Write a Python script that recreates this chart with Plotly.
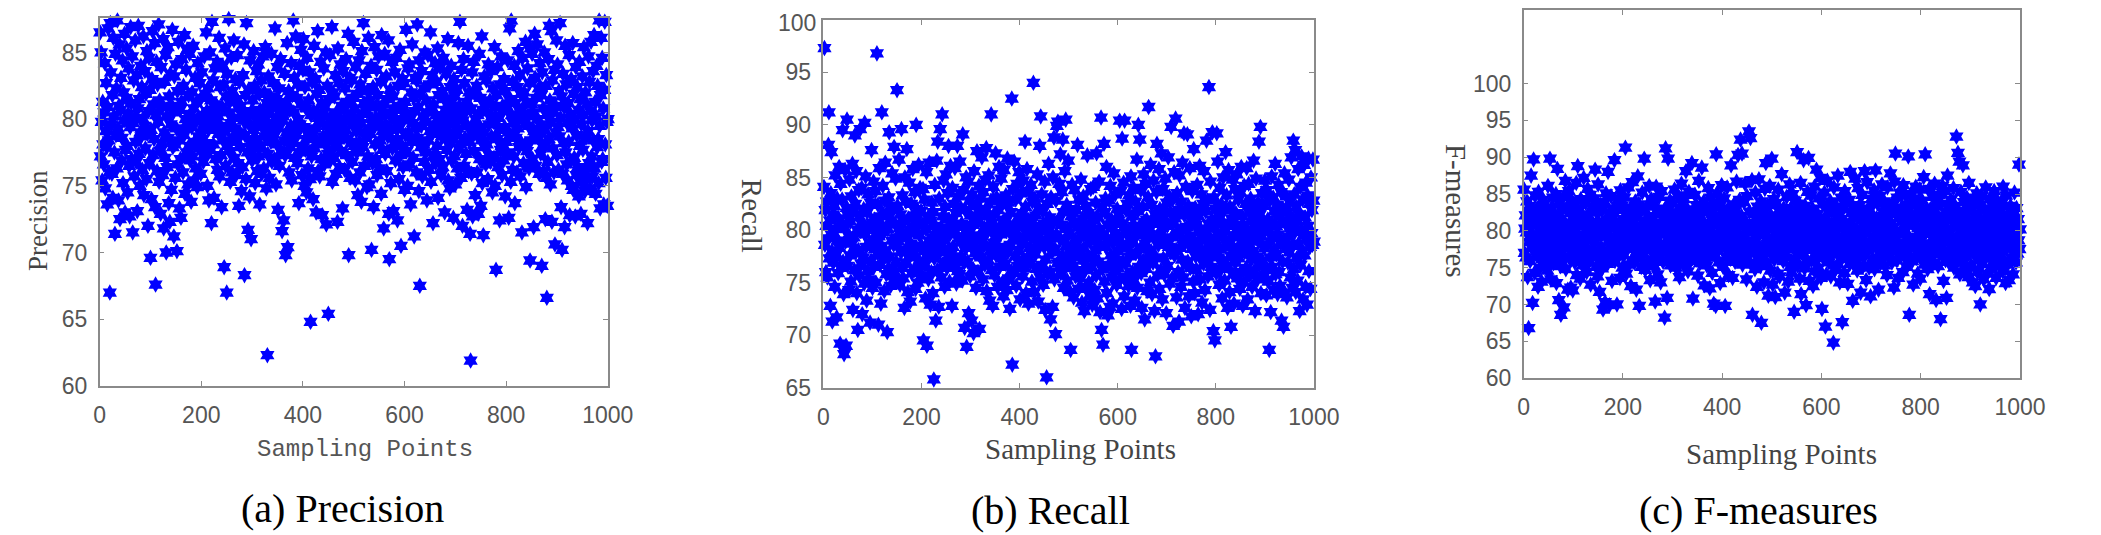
import plotly.graph_objects as go

W, H = 2101, 535

precision = [
86.5,77.2,85.0,79.8,75.4,81.3,78.1,76.6,80.5,84.2,74.8,79.1,82.7,77.9,73.6,80.9,86.8,78.4,76.0,67.0,
87.2,83.5,79.6,75.9,81.8,74.1,86.1,80.2,77.5,71.4,84.9,78.8,82.3,76.3,87.4,79.3,73.9,81.0,85.6,72.5,
80.7,83.1,76.9,78.6,84.4,75.2,82.0,79.9,86.4,73.0,77.7,81.6,85.3,78.0,74.5,80.4,83.8,76.5,72.7,79.4,
86.9,81.2,77.0,84.7,71.5,79.7,82.9,75.7,80.1,85.9,78.3,76.8,83.3,73.1,80.8,87.0,77.4,81.5,75.0,79.0,
84.0,78.7,82.4,76.2,80.0,86.2,74.3,79.5,83.6,77.8,81.9,75.5,85.1,78.9,72.0,80.6,84.6,76.7,82.2,69.6,
79.2,74.0,83.0,86.6,77.3,81.1,78.5,85.7,73.4,67.6,80.3,84.3,76.1,82.6,79.8,87.1,75.3,81.4,77.6,72.9,
83.9,78.2,80.9,75.8,86.0,71.8,79.0,82.8,77.1,84.8,70.0,80.2,76.4,85.4,78.6,73.7,81.7,72.3,83.4,79.6,
74.7,81.0,86.7,77.9,80.5,71.2,83.2,78.1,75.6,84.1,79.3,70.1,82.1,76.6,85.8,78.4,73.3,80.7,77.0,72.6,
81.3,84.5,79.1,76.0,82.5,78.8,86.3,74.4,80.0,83.7,77.5,85.2,79.7,75.1,81.8,78.0,84.9,76.9,80.4,73.8,
79.4,82.0,77.2,85.5,80.8,75.4,78.3,83.1,76.3,81.2,79.9,74.9,84.2,78.7,80.1,77.8,82.7,79.0,75.9,81.6,
83.5,78.5,80.3,76.8,79.6,84.7,77.4,81.9,78.2,86.5,80.6,75.0,82.3,79.2,73.9,80.0,85.0,77.7,81.4,72.2,
87.3,79.8,82.9,78.1,74.1,80.7,83.8,77.0,81.1,79.4,84.3,76.2,80.2,78.9,86.1,75.7,82.4,79.5,77.3,73.4,
80.9,84.0,78.4,82.6,68.9,79.1,85.3,76.5,81.7,67.0,83.4,78.0,80.5,87.5,77.6,81.3,75.3,79.7,84.6,76.0,
82.1,78.6,80.1,85.9,77.1,79.3,83.0,75.8,81.5,78.3,84.8,76.7,80.8,73.5,82.8,79.0,77.9,81.0,74.6,80.4,
76.4,83.3,79.9,85.6,68.3,78.8,81.8,75.5,87.2,80.0,77.5,71.7,82.2,79.6,74.2,84.4,78.2,71.0,80.6,76.9,
81.4,79.2,85.1,77.8,82.5,75.2,80.3,78.5,83.6,76.1,79.8,84.1,77.2,81.9,73.6,80.7,78.0,82.9,75.9,79.4,
84.7,80.1,76.3,82.0,78.7,85.4,79.5,74.8,81.2,62.3,77.4,83.2,80.5,75.6,79.1,81.7,78.3,84.9,76.8,80.9,
78.9,82.7,79.7,77.0,86.8,80.0,75.1,81.5,78.1,83.9,73.2,79.3,82.3,76.5,80.4,84.5,77.6,81.0,71.6,79.9,
80.2,72.4,78.4,83.4,77.3,69.8,81.3,79.0,85.7,70.4,78.6,82.1,76.0,80.7,77.9,79.5,84.2,75.4,81.8,78.2,
87.4,80.5,83.1,77.1,79.2,86.2,78.8,81.6,76.7,82.6,80.0,73.7,84.0,79.6,77.5,85.2,81.1,75.8,78.0,83.7,
86.0,79.4,75.0,82.4,77.7,80.8,74.5,84.6,78.5,76.3,81.4,79.0,83.5,75.5,64.8,80.3,77.2,82.8,78.9,74.0,
80.6,85.5,77.8,79.3,83.0,73.0,81.9,78.3,86.6,76.1,80.1,82.2,75.7,79.8,84.3,77.0,81.2,72.8,80.4,78.7,
83.8,76.6,80.9,78.1,85.0,72.1,79.5,82.5,77.4,65.4,81.5,79.1,84.8,76.9,80.2,78.6,86.9,75.3,82.0,79.7,
77.1,81.7,78.0,83.3,75.9,80.5,79.0,72.3,85.3,78.4,82.7,76.4,80.0,84.1,77.6,81.0,79.4,73.3,83.6,78.8,
80.7,76.2,82.3,79.2,84.5,77.3,81.3,78.5,86.4,69.8,79.9,83.1,75.6,80.3,78.2,82.9,76.8,81.6,79.6,85.8,
78.0,80.8,75.4,83.9,79.1,77.5,81.9,74.3,80.1,84.4,78.3,76.0,82.6,79.7,73.8,85.1,80.4,77.9,87.2,81.2,
76.5,79.0,83.4,78.6,80.6,74.9,82.1,77.2,86.1,79.3,75.1,81.4,78.9,84.0,70.2,80.0,76.7,82.4,73.4,79.5,
85.4,78.1,80.9,77.0,83.7,75.8,81.8,79.8,84.7,76.3,80.2,78.4,82.8,74.4,86.3,79.1,77.7,81.1,71.8,80.5,
84.9,77.4,79.6,83.2,76.1,81.5,78.7,85.9,72.9,69.5,80.3,82.2,75.2,79.2,84.3,77.8,81.7,73.1,80.8,78.2,
83.5,76.9,80.0,84.6,78.5,72.4,82.5,79.4,75.5,81.0,85.2,77.3,70.5,80.7,78.0,83.0,76.4,79.9,82.7,74.7,
81.3,78.8,86.7,77.6,80.4,75.0,83.8,79.0,84.1,76.6,80.1,73.6,82.0,78.3,85.6,79.7,77.1,81.6,71.2,80.6,
83.1,79.3,76.0,82.9,87.1,78.6,80.9,74.6,84.4,67.5,81.9,77.9,79.5,83.6,75.7,80.2,78.1,82.3,76.8,85.0,
79.8,77.5,81.4,73.9,80.5,84.8,78.4,76.2,82.6,79.1,86.5,75.3,80.8,78.9,83.3,72.2,81.1,77.3,79.6,84.2,
76.7,80.3,82.8,78.0,85.3,74.1,81.8,79.2,77.0,83.9,80.0,75.8,78.7,82.1,76.4,84.6,79.4,81.5,73.0,80.7,
78.5,83.4,77.7,80.2,86.0,75.4,81.2,79.0,74.8,82.4,78.2,84.0,76.9,80.9,79.7,72.6,83.0,77.2,81.7,75.1,
80.4,78.8,82.2,76.3,79.3,85.7,77.8,81.0,87.3,78.1,75.6,83.7,80.1,72.0,79.9,84.5,76.5,82.7,78.6,80.6,
77.4,81.3,73.2,79.5,85.5,76.1,82.0,78.3,71.4,61.9,80.8,75.9,83.5,72.7,79.1,84.3,77.6,81.9,74.3,80.0,
78.9,82.5,76.0,80.3,72.9,79.4,84.9,77.0,81.6,73.5,78.4,86.2,75.2,80.7,71.3,79.0,83.2,77.9,81.1,76.6,
82.9,78.1,80.5,75.5,84.1,79.6,77.3,81.4,76.8,83.6,78.7,80.2,74.5,82.3,79.8,77.1,85.4,75.0,80.9,68.7,
81.8,78.5,83.9,76.4,80.1,79.2,72.4,82.6,77.7,84.7,78.0,75.8,81.0,80.6,76.9,83.0,79.4,74.2,82.1,78.3,
80.8,77.5,84.4,79.0,72.6,81.5,86.8,78.8,75.3,87.4,80.3,76.2,82.8,79.7,77.2,84.0,73.7,81.2,78.6,80.0,
76.0,82.4,79.3,85.1,77.9,80.7,83.3,75.7,81.9,78.2,71.5,84.6,79.9,76.7,82.0,80.4,78.1,85.8,74.9,81.3,
77.6,83.8,80.2,79.5,76.3,82.7,69.4,85.3,78.4,81.1,84.9,77.0,80.5,71.9,79.1,86.4,83.1,76.5,81.6,78.9,
85.6,80.0,78.6,82.3,75.9,84.2,79.6,77.4,81.8,69.0,83.5,78.0,80.8,76.1,85.0,79.2,72.5,82.5,75.6,66.6,
80.3,76.8,84.5,78.5,87.0,81.4,75.1,79.8,86.6,72.3,82.9,77.8,80.6,76.0,83.7,70.6,81.0,79.0,85.9,77.3,
84.1,79.4,76.2,82.1,78.7,87.2,80.1,73.4,81.7,70.2,75.9,83.4,78.2,80.9,71.9,85.5,77.5,82.6,76.6,79.7,
75.4,81.2,78.3,84.8,72.8,80.4,76.9,83.0,75.0,79.3,85.7,74.7,81.9,77.1,80.0,72.7,83.9,75.8,78.8,82.4,
76.4,80.7,74.2,84.3,78.0,81.5,72.9,79.6,75.3,83.2,77.7,80.3,85.4,76.1,74.6,82.0,78.6,75.5,81.1,72.2,
79.1,84.7,76.7,82.8,74.8,80.6,85.8,77.2,79.9,75.7,83.6,78.4,86.3,76.3,81.3,74.4,80.2,84.0,77.9,82.5,
78.5,75.2,87.4,79.5,73.3,81.8,86.1,76.8,84.6,77.0,80.8,73.6,82.2,87.3,78.1,75.6,83.3,79.8,73.5,80.0,
]

recall = [
84.1,97.3,78.6,81.9,76.0,80.4,82.7,75.5,79.2,88.1,91.2,77.3,80.9,72.8,83.5,87.4,78.0,71.3,81.5,76.9,
79.7,82.3,74.6,85.2,80.1,77.7,71.7,83.0,79.0,75.9,81.1,86.0,78.3,69.2,84.4,76.4,80.6,82.9,89.5,77.0,
73.9,68.2,80.2,85.7,78.9,69.0,82.1,90.5,76.6,81.4,79.5,74.3,84.8,77.6,80.8,75.1,83.2,78.7,86.3,72.4,
81.8,79.3,76.2,89.0,82.5,77.9,85.6,74.0,80.0,70.5,78.1,83.8,75.7,81.2,89.6,79.9,76.8,84.0,72.0,80.5,
77.4,82.0,74.9,90.2,79.6,85.1,78.4,73.3,81.7,76.1,83.4,80.3,75.3,78.8,71.2,82.6,77.1,87.6,80.7,74.5,
79.1,84.6,76.5,81.0,78.2,83.7,75.0,80.0,96.8,77.8,82.4,71.0,79.4,85.9,76.7,81.3,73.0,78.5,91.2,80.4,
84.2,77.2,79.8,74.2,82.8,86.4,78.0,75.8,81.6,70.3,80.1,76.3,83.1,89.3,77.5,80.9,74.7,82.2,79.0,85.4,
75.6,81.9,78.6,87.9,76.0,80.6,84.9,77.0,79.3,93.3,82.3,75.2,78.9,86.7,80.2,74.8,81.5,77.9,89.6,76.4,
83.3,79.6,75.4,80.8,72.6,85.0,78.1,82.7,76.9,87.7,79.2,74.1,81.1,77.4,84.5,80.0,73.2,78.7,82.5,75.9,
80.3,85.8,77.8,79.9,76.2,83.6,81.4,74.4,90.0,78.3,82.0,75.0,80.7,86.2,77.1,79.5,84.0,76.6,81.8,78.5,
75.7,80.5,83.9,69.5,78.0,82.9,76.7,73.5,80.1,85.5,69.0,77.6,81.2,75.3,79.0,86.4,78.2,72.9,80.9,76.0,
82.6,79.3,74.0,81.7,65.8,77.3,84.3,80.4,71.4,78.8,86.6,76.2,88.4,79.7,72.7,83.0,77.9,89.6,80.2,75.5,
78.6,91.0,81.3,76.8,84.7,79.1,74.6,82.2,77.0,85.3,80.0,76.4,83.5,78.1,88.0,81.0,75.1,79.6,86.1,77.7,
80.8,72.8,84.0,78.4,76.5,82.5,79.8,85.9,77.2,81.6,74.9,80.3,88.0,76.1,83.2,79.2,75.8,86.5,78.9,82.1,
77.5,80.6,75.2,89.1,79.4,83.8,76.9,70.7,81.9,78.3,85.0,68.9,80.1,77.0,84.6,72.1,79.7,82.8,75.6,81.4,
78.7,71.4,83.4,80.5,76.3,70.2,85.6,79.0,77.8,82.3,74.5,81.1,87.5,78.1,76.0,80.9,84.2,70.6,79.5,83.0,
77.4,81.8,86.9,79.1,75.3,83.6,78.5,80.2,76.7,84.8,82.0,87.8,74.2,79.8,81.3,77.1,85.2,80.4,73.3,78.0,
82.7,91.0,76.2,80.7,72.8,84.1,78.8,81.5,75.7,79.3,87.3,77.6,83.1,80.0,74.6,81.9,78.4,86.0,76.5,80.3,
79.6,84.9,77.3,82.4,75.0,80.8,73.7,85.7,78.2,81.0,76.8,83.3,79.9,74.3,86.8,77.9,82.6,75.4,80.5,72.5,
78.6,81.7,76.1,92.5,67.2,83.9,79.2,75.9,86.5,80.1,77.5,82.9,74.7,79.4,84.4,76.6,81.2,78.1,85.5,80.6,
73.4,79.0,83.5,77.0,81.6,75.6,84.7,78.9,80.3,76.4,88.4,82.2,74.0,79.7,85.8,77.4,81.0,73.0,83.7,78.3,
80.9,76.9,84.3,79.3,75.1,82.7,78.0,94.0,80.4,74.1,83.0,77.7,81.4,76.3,79.8,85.3,78.6,73.2,82.1,80.0,
88.0,75.5,90.8,79.1,83.4,76.7,81.8,74.8,80.6,78.4,84.6,72.4,77.2,79.9,66.0,82.5,75.8,80.2,86.3,78.8,
81.2,76.0,71.5,83.1,79.4,77.9,72.7,85.0,80.7,88.8,75.3,78.2,70.1,82.8,79.6,89.9,76.8,90.3,81.0,77.0,
84.4,79.2,87.2,75.9,80.5,83.6,77.6,88.6,81.7,74.5,79.0,85.6,76.4,90.5,78.5,82.4,75.2,80.1,86.6,77.3,
79.7,82.0,74.1,68.6,81.3,76.6,84.3,78.1,80.8,73.6,77.4,83.8,79.1,75.6,81.9,78.7,76.1,88.1,80.3,74.4,
82.9,77.8,80.6,75.4,84.8,79.5,73.1,81.1,77.1,83.2,78.3,72.3,80.0,76.2,82.3,74.6,79.3,87.1,77.5,81.6,
75.0,80.4,73.8,78.9,83.9,76.5,81.4,72.9,79.8,84.1,77.3,80.9,74.3,78.1,82.6,75.7,87.3,79.4,73.5,81.2,
77.0,84.6,80.1,72.2,78.6,90.7,70.5,82.1,76.3,69.1,79.6,88.2,75.1,81.7,83.0,78.4,86.0,74.0,80.5,71.9,
79.0,76.7,82.8,72.7,84.2,77.6,81.0,75.5,80.2,73.0,78.8,85.4,76.1,79.7,83.4,77.2,80.7,74.8,82.0,78.0,
76.4,81.5,79.2,90.4,75.3,83.7,78.5,72.5,88.7,80.6,77.0,84.5,73.7,90.4,79.9,76.8,81.9,75.6,82.5,78.3,
80.0,74.7,83.3,77.5,79.1,72.8,85.1,68.6,81.3,76.0,78.9,84.0,75.2,80.4,73.3,82.7,77.8,79.5,86.7,74.5,
81.8,90.0,76.5,80.3,88.6,78.2,83.8,75.9,72.6,79.8,82.2,77.1,85.3,80.8,71.5,78.7,84.4,76.3,81.0,74.2,
79.4,83.1,91.7,77.7,80.1,75.0,86.2,78.0,82.4,73.9,80.6,76.9,84.7,79.2,72.3,81.5,68.0,77.4,83.6,88.2,
75.7,80.9,78.6,85.8,74.4,82.0,79.6,76.2,87.3,80.2,73.4,83.9,77.3,81.2,75.8,78.9,84.9,79.0,72.1,82.6,
80.4,76.6,86.9,78.4,83.2,74.9,81.7,77.9,89.8,79.3,75.4,82.9,70.9,80.7,85.5,77.6,81.1,90.6,78.1,73.6,
83.5,79.7,76.0,81.9,71.3,85.2,78.3,80.0,74.6,82.7,77.2,86.4,79.1,75.5,89.2,81.4,72.6,78.8,84.1,76.7,
80.3,89.1,77.0,82.3,73.7,79.5,85.9,76.4,81.6,71.8,78.2,83.7,80.8,75.1,87.7,79.0,74.0,82.1,77.5,80.5,
76.2,84.3,78.6,72.0,81.3,79.8,86.1,75.3,80.1,77.8,83.4,73.1,79.2,82.5,76.8,85.6,78.0,74.3,81.8,79.6,
88.5,77.1,82.8,75.6,80.6,93.6,78.5,72.4,84.6,79.1,76.5,81.0,89.3,77.7,70.4,83.1,80.2,69.5,78.9,82.0,
75.9,89.2,79.7,86.5,77.4,81.4,74.8,84.0,78.2,80.7,76.3,82.4,73.5,79.4,85.0,77.0,81.9,75.2,80.0,87.4,
78.7,83.3,76.6,72.6,80.4,85.7,79.0,74.1,82.2,77.6,70.8,81.1,78.4,84.8,75.8,80.9,73.0,79.5,83.9,76.9,
81.6,78.1,85.3,75.4,80.2,82.9,77.3,79.8,74.4,83.6,76.0,86.0,78.8,81.3,72.8,80.5,75.0,84.2,77.9,79.3,
82.5,76.4,85.9,80.0,73.4,78.5,84.4,81.7,75.7,79.1,83.0,77.2,80.8,74.6,82.1,78.0,86.6,76.1,81.2,72.3,
79.7,84.9,77.5,80.3,75.3,82.6,78.9,88.4,76.7,81.5,89.8,74.0,79.4,83.5,77.1,80.6,75.6,82.3,78.3,84.7,
76.2,80.1,73.8,83.8,78.6,81.0,75.1,79.9,68.6,82.8,77.4,72.2,80.7,85.1,76.5,79.2,83.1,74.3,81.8,78.1,
86.3,75.8,80.4,77.7,82.4,73.9,79.6,84.3,76.0,81.4,74.7,78.8,83.6,71.4,80.9,77.0,82.0,70.8,79.0,85.4,
74.0,80.6,78.2,83.2,73.6,81.7,76.9,79.4,84.8,77.9,82.7,75.5,80.2,86.9,78.5,74.5,81.1,88.5,76.3,83.4,
79.8,87.6,74.1,82.2,77.3,80.8,75.2,85.8,78.7,81.5,72.3,84.1,76.7,80.0,87.0,78.0,82.9,73.4,79.5,86.2,
77.6,81.2,74.6,84.5,79.1,72.9,83.3,80.4,86.8,76.1,82.5,78.4,74.4,85.0,79.7,81.9,78.6,86.7,82.8,78.9,
]

fmeasures = [
85.6,77.0,80.3,82.1,76.4,79.8,84.0,73.7,81.2,66.8,78.5,83.4,75.9,80.7,87.5,77.8,82.6,70.2,79.4,89.7,
81.5,74.3,84.8,78.0,80.9,76.7,83.0,79.2,72.4,85.3,77.5,81.8,75.0,80.0,82.9,73.1,79.6,84.2,76.2,81.0,
78.3,83.7,75.4,80.5,77.1,82.3,79.0,74.6,86.1,78.8,81.4,76.0,89.8,80.2,73.4,83.1,77.7,79.9,84.5,75.6,
82.0,78.6,80.8,76.9,85.0,72.9,79.3,88.4,77.3,81.6,70.6,83.9,78.1,75.2,68.6,80.1,82.8,76.5,79.7,84.6,
69.6,77.6,81.1,86.8,74.8,80.4,78.2,83.3,72.0,79.1,85.4,76.3,82.4,78.9,72.3,80.6,84.1,77.2,71.9,81.9,
79.5,83.6,75.7,80.0,77.9,86.5,74.0,81.3,88.8,78.4,82.7,76.8,80.9,73.5,84.3,79.0,77.0,82.2,75.3,80.7,
87.2,78.0,81.7,76.1,83.8,79.4,74.4,80.3,85.7,77.4,82.0,75.8,79.8,84.9,72.7,81.0,78.7,83.2,76.6,80.5,
78.9,84.4,77.3,88.3,80.2,75.1,82.5,79.1,73.8,86.3,81.2,76.4,71.7,79.6,83.5,77.8,80.8,74.9,82.9,69.3,
80.0,76.2,83.9,70.3,79.3,85.1,77.0,81.5,75.5,88.0,78.6,82.3,69.9,80.4,76.9,84.7,79.0,73.2,81.8,77.6,
83.0,78.2,89.6,75.9,80.6,77.1,82.8,70.0,79.7,84.2,76.5,81.1,78.5,73.6,85.5,80.1,77.4,83.4,75.0,79.2,
81.6,76.7,84.5,78.1,91.3,80.3,74.2,82.4,77.8,79.5,85.9,75.4,80.8,78.4,83.1,72.5,81.3,76.0,86.6,79.9,
77.5,82.1,75.7,80.0,84.0,78.7,72.0,81.9,76.3,87.4,79.1,83.6,69.8,80.5,77.2,82.6,75.1,79.4,85.2,78.0,
80.2,76.8,89.8,78.9,74.7,81.4,77.7,83.3,79.6,75.6,82.0,78.3,86.1,80.7,73.3,77.4,84.3,79.0,76.1,81.7,
78.6,83.8,75.2,80.1,70.4,79.3,86.0,77.0,82.7,74.1,80.6,78.2,84.6,76.4,81.0,73.0,79.8,85.4,77.6,82.3,
75.8,80.4,78.1,68.2,83.0,91.2,77.3,81.6,70.9,79.5,89.8,76.0,82.5,78.8,84.1,75.3,80.9,77.5,83.7,79.1,
81.2,76.6,79.9,85.6,77.9,82.2,75.0,80.3,78.5,84.8,76.2,81.5,79.2,73.7,83.2,78.0,80.7,86.4,77.1,82.6,
79.4,75.4,84.3,78.3,81.1,76.9,88.1,80.0,77.4,82.9,74.5,79.7,85.3,77.8,81.8,75.9,80.5,78.6,89.2,76.3,
70.8,82.4,78.9,80.8,84.9,77.2,79.3,83.5,76.1,81.3,73.9,78.4,86.8,80.2,75.6,82.0,77.7,79.8,88.6,76.7,
81.0,78.1,84.0,72.6,80.6,77.0,83.1,79.5,75.3,82.7,78.7,85.8,76.4,80.1,72.2,79.0,84.5,77.5,81.6,74.3,
83.4,79.2,70.1,80.9,76.8,82.1,69.8,90.4,78.2,85.1,77.3,81.4,75.7,79.6,83.8,72.9,80.3,77.9,86.2,78.8,
82.5,75.1,80.0,84.4,78.0,69.8,81.7,76.5,79.4,85.9,77.6,83.0,74.0,80.7,78.4,82.2,76.2,88.9,79.1,81.2,
73.6,80.4,77.2,83.6,79.7,75.8,82.8,78.6,86.7,80.1,76.0,90.3,81.5,77.7,84.2,79.0,92.4,78.3,82.0,90.5,
75.4,80.8,77.0,83.9,79.3,86.4,76.6,81.1,73.4,84.7,78.5,80.2,76.9,93.5,82.6,78.1,92.6,75.5,80.5,86.9,
68.6,79.8,82.3,77.4,81.0,74.8,85.2,78.7,80.0,72.4,83.3,76.3,79.5,87.0,77.8,81.8,75.2,84.0,67.5,79.9,
76.7,82.4,78.0,73.0,80.6,85.7,77.1,89.2,81.3,75.6,79.1,83.5,71.2,80.3,78.4,86.1,74.6,82.1,77.3,89.8,
80.9,72.7,78.8,84.3,76.1,81.6,71.0,79.6,83.8,77.6,80.4,74.2,85.6,78.2,82.7,73.8,79.3,76.5,81.2,87.7,
77.0,80.1,75.9,83.1,78.6,71.6,82.2,79.0,76.4,84.6,80.7,77.5,73.1,81.7,78.1,86.3,75.1,79.7,82.9,74.4,
80.3,85.0,77.8,81.4,69.0,79.2,84.1,76.2,82.5,78.9,90.7,75.3,80.8,77.1,83.7,73.5,79.5,86.5,71.4,81.9,
78.3,82.8,76.7,89.6,80.0,74.9,83.4,79.1,69.9,81.1,77.7,85.3,75.8,89.9,80.5,73.2,82.0,78.5,84.8,76.0,
79.7,83.0,72.5,80.6,77.4,86.0,74.5,81.5,78.1,88.3,76.6,82.3,79.3,75.0,84.4,77.9,80.2,87.2,73.6,81.0,
69.4,78.8,83.6,76.3,80.9,85.2,77.5,67.0,81.8,74.1,79.4,86.8,78.2,82.6,75.7,80.4,77.0,84.0,73.8,79.1,
82.7,76.8,80.1,64.8,85.9,78.6,81.3,74.7,79.8,83.3,77.3,80.7,87.5,75.4,82.1,78.0,73.0,81.6,76.2,84.5,
79.0,67.6,82.9,77.8,80.3,74.3,85.4,78.4,81.0,76.5,83.9,79.6,72.8,80.8,77.1,84.2,75.5,88.0,79.3,82.4,
76.0,80.6,70.5,83.2,78.1,81.9,75.9,87.1,79.5,77.2,82.5,74.6,80.0,85.8,78.7,76.4,83.5,79.2,71.6,81.4,
77.6,84.9,80.2,75.2,82.2,78.5,88.1,76.7,81.1,73.3,79.9,86.6,77.4,83.0,80.5,75.0,82.8,78.3,71.1,80.9,
84.3,76.1,79.0,82.0,77.9,85.5,74.8,80.4,88.2,78.0,81.7,76.3,83.7,79.6,72.0,81.2,77.0,84.7,75.6,80.1,
78.8,86.3,76.6,82.6,79.3,84.0,75.3,80.8,77.6,83.4,81.5,74.0,85.9,78.2,80.3,76.9,82.3,79.8,87.8,77.2,
81.0,75.7,83.8,78.6,80.5,72.3,86.7,79.1,90.5,77.4,82.8,76.0,84.5,79.5,73.6,81.8,78.0,85.2,76.8,80.0,
83.1,77.8,81.3,74.4,86.2,79.7,76.5,82.4,78.4,84.8,80.7,75.1,83.5,77.1,90.1,79.2,68.6,81.6,76.2,85.0,
78.1,82.2,75.9,80.9,72.7,84.4,77.7,81.1,79.0,86.0,76.3,83.6,78.9,74.2,80.4,82.7,77.0,85.6,73.5,79.4,
81.9,76.6,84.1,78.3,80.6,87.3,75.4,82.5,90.4,79.8,77.3,83.0,80.2,74.8,81.4,77.9,85.7,71.4,79.6,82.9,
76.4,80.7,78.2,84.6,75.6,81.7,79.1,86.4,77.5,83.3,70.6,80.1,78.5,82.1,75.2,84.9,79.4,76.8,81.2,68.0,
83.7,78.0,80.5,86.1,77.2,73.2,81.5,79.3,85.4,76.0,82.6,70.9,80.3,87.5,78.6,75.8,83.1,79.7,77.0,81.8,
84.2,79.0,76.7,82.0,78.4,85.8,75.0,80.8,83.4,77.6,81.3,92.8,79.2,76.2,90.6,82.7,78.1,89.4,74.1,80.0,
85.3,77.4,81.6,78.7,88.9,75.7,83.9,79.5,76.5,82.3,74.7,80.6,84.5,78.0,81.0,73.7,86.5,79.1,77.0,83.2,
80.2,75.3,82.8,78.5,73.0,81.4,76.9,84.1,79.8,72.5,80.7,77.8,85.1,74.4,82.1,79.0,76.1,83.6,78.2,70.0,
81.1,77.0,84.7,75.5,80.4,78.9,73.4,83.0,79.5,76.6,85.9,78.1,81.7,74.2,80.0,77.5,82.4,72.1,79.2,84.3,
76.3,80.9,74.8,83.5,78.6,81.3,75.9,85.4,79.7,77.1,82.6,73.6,80.3,78.0,84.0,76.7,81.5,79.1,75.2,82.9,
78.4,83.9,77.3,80.6,74.5,86.0,79.3,76.0,81.9,78.8,72.9,84.8,77.6,80.1,75.4,82.2,79.6,73.3,81.0,77.9,
83.4,80.5,76.4,79.0,82.5,74.1,81.2,78.3,85.2,77.0,80.8,75.7,83.1,79.4,76.9,81.6,78.7,89.0,77.5,80.2,
]

x_ticks = [0, 200, 400, 600, 800, 1000]
ticks_a = [60, 65, 70, 75, 80, 85]
ticks_b = [65, 70, 75, 80, 85, 90, 95, 100]
ticks_c = [60, 65, 70, 75, 80, 85, 90, 95, 100]

y_titles = ["Precision", "Recall", "F-measures"]
x_title = "Sampling Points"
captions = ["(a) Precision", "(b) Recall", "(c) F-measures"]

def px_x(v):
    return v / W

def px_y(v):
    return 1 - v / H

panels = [
    dict(data=precision, xd=(87, 603), yd=(387, 9), yr=(60, 87.6), yt=ticks_a),
    # the top "100" label of panel (b) touches the page edge; it is drawn below as text
    dict(data=recall, xd=(822, 1320), yd=(389, 11), yr=(65, 100.0), yt=ticks_b[:-1]),
    dict(data=fmeasures, xd=(1533, 2037), yd=(379, 1), yr=(60, 110), yt=ticks_c),
]

tick_font = dict(family="Liberation Sans, Arial", size=23, color="#555555")

fig = go.Figure()
axis_common = dict(
    showline=True, linecolor="#8a8a8a", linewidth=1.6, mirror="ticks",
    ticks="inside", ticklen=5, tickcolor="#8a8a8a", tickwidth=1.2,
    showgrid=False, zeroline=False, tickfont=tick_font,
)
layout = dict(
    width=W, height=H, margin=dict(l=0, r=0, t=0, b=0),
    paper_bgcolor="white", plot_bgcolor="white", showlegend=False,
)
for i, p in enumerate(panels):
    n = "" if i == 0 else str(i + 1)
    xs = list(range(1, len(p["data"]) + 1))
    fig.add_trace(go.Scatter(
        x=xs, y=p["data"], mode="markers",
        marker=dict(symbol="hexagram", size=12.5, color="#0000ff", line=dict(width=0)),
        xaxis="x" + n, yaxis="y" + n, hoverinfo="skip", cliponaxis=False,
    ))
    layout["xaxis" + n] = dict(
        axis_common, domain=[px_x(p["xd"][0]), px_x(p["xd"][1])],
        range=[0, 1000], tickvals=x_ticks, anchor="y" + n, ticklabelstandoff=8,
    )
    layout["yaxis" + n] = dict(
        axis_common, domain=[px_y(p["yd"][0]), px_y(p["yd"][1])],
        range=list(p["yr"]), tickvals=p["yt"], anchor="x" + n, ticklabelstandoff=6,
    )
# tick mark for 100 on panel (b) is the top spine itself; add its label
layout["yaxis2"]["tickvals"] = ticks_b
layout["yaxis2"]["ticktext"] = [str(v) for v in ticks_b[:-1]] + [""]

fig.update_layout(**layout)

ann = []
ann.append(dict(x=px_x(815), y=1.0, text=str(ticks_b[-1]), xanchor="right", yanchor="top",
                font=tick_font, borderpad=0))
ann.append(dict(x=px_x(25), y=px_y(217), text=y_titles[0], textangle=-90,
                font=dict(family="Liberation Serif", size=27, color="#444444")))
ann.append(dict(x=px_x(749), y=px_y(212), text=y_titles[1], textangle=90,
                font=dict(family="Liberation Serif", size=29, color="#444444")))
ann.append(dict(x=px_x(1465), y=px_y(207), text=y_titles[2], textangle=90,
                font=dict(family="Liberation Serif", size=29, color="#444444")))
ann.append(dict(x=px_x(356), y=px_y(452), text=x_title,
                font=dict(family="Liberation Mono", size=24, color="#555555")))
ann.append(dict(x=px_x(1083), y=px_y(452), text=x_title,
                font=dict(family="Liberation Serif", size=29, color="#444444")))
ann.append(dict(x=px_x(1795), y=px_y(457), text=x_title,
                font=dict(family="Liberation Serif", size=29, color="#444444")))
for cx, cy, t in [(334, 513, captions[0]), (1053, 515, captions[1]), (1771, 515, captions[2])]:
    ann.append(dict(x=px_x(cx), y=px_y(cy), text=t,
                    font=dict(family="Liberation Serif", size=40, color="#000000")))
for a in ann:
    a.setdefault("xanchor", "center")
    a.setdefault("yanchor", "middle")
    a.update(xref="paper", yref="paper", showarrow=False)
fig.update_layout(annotations=ann)

fig.write_html("out.html")
